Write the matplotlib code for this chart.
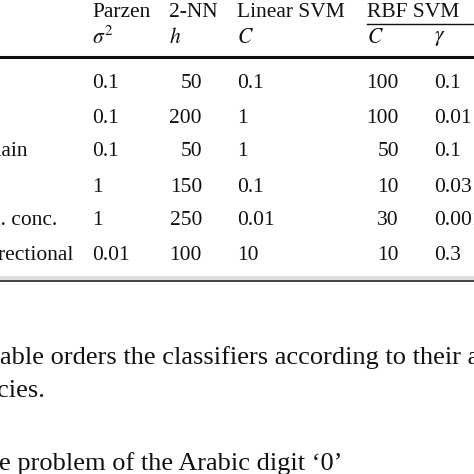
import matplotlib
matplotlib.use("Agg")
import matplotlib.pyplot as plt

plt.rcParams['font.family'] = ['Liberation Serif', 'DejaVu Serif']
plt.rcParams['mathtext.fontset'] = 'stix'

row_labels = ["", "", "domain", "", "Min. conc.", "Bidirectional"]
parzen = ["0.1", "0.1", "0.1", "1", "1", "0.01"]
nn = ["50", "200", "50", "150", "250", "100"]
linsvm = ["0.1", "1", "1", "0.1", "0.01", "10"]
rbf_c = ["100", "100", "50", "10", "30", "10"]
rbf_g = ["0.1", "0.01", "0.1", "0.03", "0.001", "0.3"]
headers = ["Parzen", "2-NN", "Linear SVM", "RBF SVM"]
params = [r"$\sigma^2$", r"$h$", r"$C$", r"$C$", r"$\gamma$"]
caption = ["able orders the classifiers according to their a",
           "cies.", "e problem of the Arabic digit \u20180\u2019"]

W = H = 474
fig = plt.figure(figsize=(4.74, 4.74), dpi=100)
ax = fig.add_axes([0, 0, 1, 1])
ax.set_xlim(0, W); ax.set_ylim(H, 0); ax.axis('off')
fs = 15.5
kw = dict(fontsize=fs, va='center', color='#111')

hx = [92, 169, 237, 367]
for x, t in zip(hx, headers):
    ax.text(x, 12, t, ha='left', **kw)
px = [92, 169, 237, 367, 434]
for x, t in zip(px, params):
    ax.text(x, 38, t, ha='left', **kw)
ax.plot([367, 474], [24, 24], color='#111', lw=1)
ax.plot([0, 474], [57, 57], color='#111', lw=2.2)

ys = [83, 118, 152, 187, 220, 256]
label_right = [0, 0, 28, 0, 57, 74]
for i, y in enumerate(ys):
    if row_labels[i]:
        ax.text(label_right[i], y, row_labels[i], ha='right', **kw)
    ax.text(92, y, parzen[i], ha='left', **kw)
    ax.text(202, y, nn[i], ha='right', **kw)
    ax.text(237, y, linsvm[i], ha='left', **kw)
    ax.text(399, y, rbf_c[i], ha='right', **kw)
    ax.text(434, y, rbf_g[i], ha='left', **kw)
ax.plot([0, 474], [278, 278], color='#ddd', lw=3)
ax.plot([0, 474], [281, 281], color='#333', lw=1.3)

cfs = 19
ax.text(0, 358, caption[0], ha='left', fontsize=cfs, va='center', color='#111')
ax.text(-3, 391, caption[1], ha='left', fontsize=cfs, va='center', color='#111')
ax.text(-1, 464, caption[2], ha='left', fontsize=cfs, va='center', color='#111')

fig.savefig("out.png", dpi=100)
